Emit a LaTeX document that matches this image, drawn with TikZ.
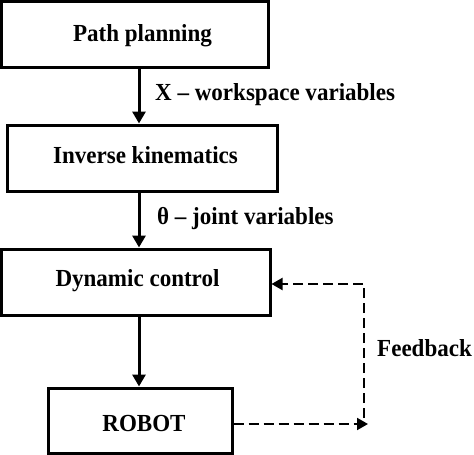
\documentclass[tikz,border=0pt]{standalone}
\usepackage{fontspec}
\setmainfont{Liberation Serif}[FakeStretch=0.94]
\usetikzlibrary{arrows.meta}
\begin{document}
\begin{tikzpicture}[x=1pt,y=1pt,
  box/.style={draw,line width=3pt,minimum width=#1,minimum height=66pt,inner sep=0pt},
  txt/.style={anchor=base,inner sep=0pt,font=\fontsize{24.5}{28}\selectfont\bfseries},
  lbl/.style={anchor=base west,inner sep=0pt,font=\fontsize{24.5}{28}\selectfont\bfseries},
  flow/.style={line width=3pt,-{Triangle[length=12pt,width=13pt]}},
  fb/.style={line width=2pt,dash pattern=on 10pt off 5pt,-{Triangle[length=11pt,width=12pt]}}]
\useasboundingbox (0,0) rectangle (474,-455);
\node[box=267.5pt] (B1) at (135,-34.25) {};
\node[box=270pt] (B2) at (142,-158) {};
\node[box=268.5pt] (B3) at (135.75,-282) {};
\node[box=184pt,minimum height=65pt] (B4) at (140,-420.5) {};
\node[txt] (T1) at (142.5,-41.7) {Path planning};
\node[txt] (T2) at (145.5,-163.3) {Inverse kinematics};
\node[txt] (T3) at (137.5,-286.7) {Dynamic control};
\node[txt] (T4) at (144,-431.7) {ROBOT};
\coordinate (sp) at (139,0);
\draw[flow] (B1.south -| sp) -- (B2.north -| sp);
\draw[flow] (B2.south -| sp) -- (B3.north -| sp);
\draw[flow] (B3.south -| sp) -- (B4.north -| sp);
\node[lbl] (L1) at (155,-100) {X -- workspace variables};
\node[lbl] (L2) at (157,-224) {θ -- joint variables};
\node[lbl] (L3) at (377,-356.7) {Feedback};
\coordinate (fbb) at (368,-424);
\coordinate (fbc) at (364,-418);
\coordinate (fbt) at (364,-284);
\draw[fb] (B4.east |- fbb) -- (fbb);
\draw[fb] (fbc) -- (fbt) -- (B3.east |- fbt);
\end{tikzpicture}
\end{document}
